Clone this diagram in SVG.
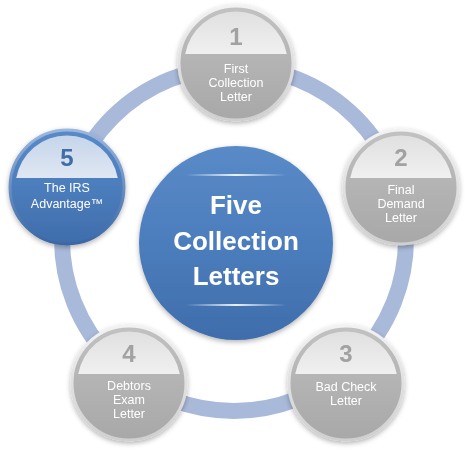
<svg xmlns="http://www.w3.org/2000/svg" width="471" height="450" viewBox="0 0 471 450">
<defs>
<linearGradient id="gGray" x1="0" y1="0" x2="0" y2="1">
<stop offset="0" stop-color="#c2c2c2"/><stop offset="0.5" stop-color="#b3b3b3"/><stop offset="1" stop-color="#a8a8a8"/>
</linearGradient>
<linearGradient id="gGrayRim" x1="0" y1="0" x2="0" y2="1">
<stop offset="0" stop-color="#f2f2f2"/><stop offset="1" stop-color="#cfcfcf"/>
</linearGradient>
<linearGradient id="gBand" x1="0" y1="0" x2="0" y2="1">
<stop offset="0" stop-color="#e0e0e0"/><stop offset="1" stop-color="#f0f0f0"/>
</linearGradient>
<linearGradient id="gBlue" x1="0" y1="0" x2="0" y2="1">
<stop offset="0" stop-color="#5a8ac8"/><stop offset="0.5" stop-color="#4c7dbc"/><stop offset="1" stop-color="#3f6dab"/>
</linearGradient>
<linearGradient id="gBlueRim" x1="0" y1="0" x2="0" y2="1">
<stop offset="0" stop-color="#9ab7de"/><stop offset="1" stop-color="#3a67a4"/>
</linearGradient>
<linearGradient id="gBlueBand" x1="0" y1="0" x2="0" y2="1">
<stop offset="0" stop-color="#c6d5ea"/><stop offset="1" stop-color="#dfe7f3"/>
</linearGradient>
<linearGradient id="gHi" x1="0" y1="0" x2="1" y2="0">
<stop offset="0" stop-color="#ffffff" stop-opacity="0"/><stop offset="0.5" stop-color="#ffffff" stop-opacity="0.9"/><stop offset="1" stop-color="#ffffff" stop-opacity="0"/>
</linearGradient>
<filter id="sh" x="-20%" y="-20%" width="140%" height="140%">
<feDropShadow dx="0" dy="2" stdDeviation="2.5" flood-color="#000" flood-opacity="0.3"/>
</filter>
<path id="band" d="M -50.8 -9 A 51.6 51.6 0 0 1 50.8 -9 Z"/>
</defs>
<style>
.ring{fill:none;stroke:#a9b9d9;stroke-width:16}
.gc{fill:url(#gGray);stroke:url(#gGrayRim);stroke-width:3}
.bc{fill:url(#gBlue);stroke:url(#gBlueRim);stroke-width:3}
.gband{fill:url(#gBand)}
.bband{fill:url(#gBlueBand)}
.num{font-family:"Liberation Sans",Arial,sans-serif;font-weight:bold;font-size:24px;text-anchor:middle}
.gnum{fill:#a2a2a2}
.bnum{fill:#3f6ca8}
.lbl{font-family:"Liberation Sans",Arial,sans-serif;font-size:12.5px;fill:#ffffff;text-anchor:middle}
.big{font-family:"Liberation Sans",Arial,sans-serif;font-weight:bold;font-size:26px;fill:#ffffff;text-anchor:middle}
</style>
<rect width="471" height="450" fill="#ffffff"/>
<g id="connectors">
<circle class="ring" cx="234" cy="239" r="172"/>
</g>
<g id="center" filter="url(#sh)">
<circle cx="236" cy="243" r="97" fill="url(#gBlue)"/>
<rect x="186" y="174" width="100" height="2" fill="url(#gHi)"/>
<rect x="186" y="304" width="100" height="2" fill="url(#gHi)"/>
<text class="big" x="236" y="214">Five</text>
<text class="big" x="236" y="250">Collection</text>
<text class="big" x="236" y="285">Letters</text>
</g>
<g id="node1" transform="translate(236,63)" filter="url(#sh)">
<circle class="gc" r="57"/>
<use href="#band" class="gband"/>
<text class="num gnum" y="-18">1</text>
<text class="lbl" y="10">First</text>
<text class="lbl" y="24">Collection</text>
<text class="lbl" y="38">Letter</text>
</g>
<g id="node2" transform="translate(401,187)" filter="url(#sh)">
<circle class="gc" r="57"/>
<use href="#band" class="gband"/>
<text class="num gnum" y="-21">2</text>
<text class="lbl" y="7">Final</text>
<text class="lbl" y="21">Demand</text>
<text class="lbl" y="35">Letter</text>
</g>
<g id="node3" transform="translate(346,383)" filter="url(#sh)">
<circle class="gc" r="57"/>
<use href="#band" class="gband"/>
<text class="num gnum" y="-21">3</text>
<text class="lbl" y="8">Bad Check</text>
<text class="lbl" y="22">Letter</text>
</g>
<g id="node4" transform="translate(129,383)" filter="url(#sh)">
<circle class="gc" r="57"/>
<use href="#band" class="gband"/>
<text class="num gnum" y="-21">4</text>
<text class="lbl" y="7">Debtors</text>
<text class="lbl" y="21">Exam</text>
<text class="lbl" y="35">Letter</text>
</g>
<g id="node5" transform="translate(67,187)" filter="url(#sh)">
<circle class="bc" r="57"/>
<use href="#band" class="bband"/>
<text class="num bnum" y="-21">5</text>
<text class="lbl" y="5" font-size="14.5">The IRS</text>
<text class="lbl" y="21" font-size="14.5">Advantage™</text>
</g>
</svg>
